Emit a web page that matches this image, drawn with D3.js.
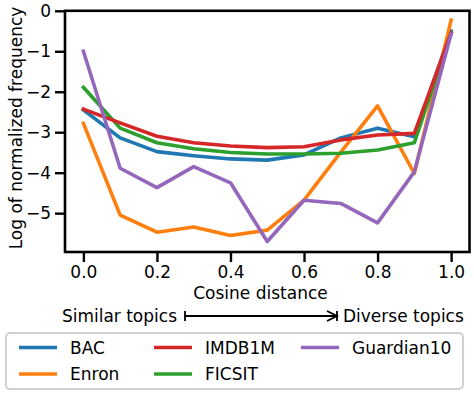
<!DOCTYPE html>
<html>
<head>
<meta charset="utf-8">
<script src="https://cdn.jsdelivr.net/npm/d3@7"></script>
<style>
  body { margin: 0; background: #fff; }
  svg text { font-family: "DejaVu Sans", sans-serif; fill: #000; }
</style>
</head>
<body>
<div id="chart"></div>
<script>
// Cosine distance bins
const xs = [0.0, 0.1, 0.2, 0.3, 0.4, 0.5, 0.6, 0.7, 0.8, 0.9, 1.0];

// Log of normalized frequency per dataset
const bac      = [-2.45, -3.14, -3.48, -3.58, -3.66, -3.69, -3.56, -3.14, -2.90, -3.11, -0.50];
const enron    = [-2.78, -5.05, -5.47, -5.34, -5.55, -5.42, -4.68, -3.49, -2.35, -4.02, -0.23];
const ficsit   = [-1.89, -2.90, -3.26, -3.41, -3.50, -3.54, -3.54, -3.52, -3.44, -3.26, -0.55];
const imdb1m   = [-2.43, -2.77, -3.10, -3.26, -3.34, -3.38, -3.36, -3.19, -3.07, -3.03, -0.55];
const guardian = [-1.00, -3.89, -4.37, -3.85, -4.25, -5.70, -4.68, -4.76, -5.24, -3.98, -0.57];

const xTicks = [0.0, 0.2, 0.4, 0.6, 0.8, 1.0];
const yTicks = [0, -1, -2, -3, -4, -5];

// draw order (legend order is handled separately below)
const series = [
  { name: 'BAC',        color: '#1f77b4', values: bac },
  { name: 'Enron',      color: '#ff7f0e', values: enron },
  { name: 'FICSIT',     color: '#2ca02c', values: ficsit },
  { name: 'IMDB1M',     color: '#d62728', values: imdb1m },
  { name: 'Guardian10', color: '#9467bd', values: guardian }
];
const legendOrder = ['BAC', 'Enron', 'IMDB1M', 'FICSIT', 'Guardian10'];

const width = 474, height = 395;
const mLeft = 65, mRight = 469.5, mTop = 10.8, mBottom = 252;

const svg = d3.select('#chart').append('svg')
  .attr('width', width)
  .attr('height', height);

const x = d3.scaleLinear().domain([-0.05, 1.05]).range([mLeft, mRight]);
const y = d3.scaleLinear().domain([-5.96, 0]).range([mBottom, mTop]);

// Lines
const line = d3.line()
  .x((d, i) => x(xs[i]))
  .y(d => y(d));

svg.append('g').selectAll('path')
  .data(series)
  .join('path')
  .attr('d', d => line(d.values))
  .attr('fill', 'none')
  .attr('stroke', d => d.color)
  .attr('stroke-width', 3.6)
  .attr('stroke-linejoin', 'round')
  .attr('stroke-linecap', 'square');

// Axes
const xAxis = svg.append('g')
  .attr('transform', `translate(0,${mBottom})`)
  .call(d3.axisBottom(x).tickValues(xTicks).tickFormat(d3.format('.1f')).tickSize(10).tickPadding(4));
const yAxis = svg.append('g')
  .attr('transform', `translate(${mLeft},0)`)
  .call(d3.axisLeft(y).tickValues(yTicks).tickFormat(d3.format('d')).tickSize(10).tickPadding(4));

[xAxis, yAxis].forEach(a => {
  a.select('.domain').remove();
  a.selectAll('.tick line').attr('stroke', '#000').attr('stroke-width', 2.4);
  a.selectAll('.tick text').attr('font-size', 17).attr('font-family', '"DejaVu Sans", sans-serif');
});

// Frame
svg.append('rect')
  .attr('x', mLeft).attr('y', mTop)
  .attr('width', mRight - mLeft).attr('height', mBottom - mTop)
  .attr('fill', 'none')
  .attr('stroke', '#000')
  .attr('stroke-width', 2.6);

// Axis labels
svg.append('text')
  .attr('x', 260.5).attr('y', 299)
  .attr('text-anchor', 'middle')
  .attr('font-size', 17)
  .text('Cosine distance');

svg.append('text')
  .attr('transform', 'translate(22,128) rotate(-90)')
  .attr('text-anchor', 'middle')
  .attr('font-size', 17)
  .text('Log of normalized frequency');

// Similar -> Diverse annotation
const arrowY = 316;
svg.append('text')
  .attr('x', 177).attr('y', arrowY + 6)
  .attr('text-anchor', 'end')
  .attr('font-size', 17)
  .text('Similar topics');
svg.append('text')
  .attr('x', 343).attr('y', arrowY + 6)
  .attr('font-size', 17)
  .text('Diverse topics');

const arr = svg.append('g').attr('stroke', '#000').attr('stroke-width', 1.8).attr('fill', 'none');
arr.append('line').attr('x1', 185).attr('x2', 337).attr('y1', arrowY).attr('y2', arrowY);
arr.append('line').attr('x1', 185).attr('x2', 185).attr('y1', arrowY - 5).attr('y2', arrowY + 5);
arr.append('line').attr('x1', 337).attr('x2', 337).attr('y1', arrowY - 5).attr('y2', arrowY + 5);
arr.append('path').attr('d', `M${327},${arrowY - 5} L${337},${arrowY} L${327},${arrowY + 5}`);

// Legend
const legend = svg.append('g');
legend.append('rect')
  .attr('x', 6).attr('y', 333)
  .attr('width', 457).attr('height', 56)
  .attr('rx', 4)
  .attr('fill', '#fff')
  .attr('stroke', '#d0d0d0')
  .attr('stroke-width', 2);

const colX = [19, 154, 301];
const rowY = [347.5, 374];
legendOrder.forEach((name, i) => {
  const s = series.find(d => d.name === name);
  const cx = colX[Math.floor(i / 2)];
  const cy = rowY[i % 2];
  legend.append('line')
    .attr('x1', cx).attr('x2', cx + 38)
    .attr('y1', cy).attr('y2', cy)
    .attr('stroke', s.color)
    .attr('stroke-width', 3.6);
  legend.append('text')
    .attr('x', cx + 51).attr('y', cy + 6)
    .attr('font-size', 17)
    .text(name);
});
</script>
</body>
</html>
